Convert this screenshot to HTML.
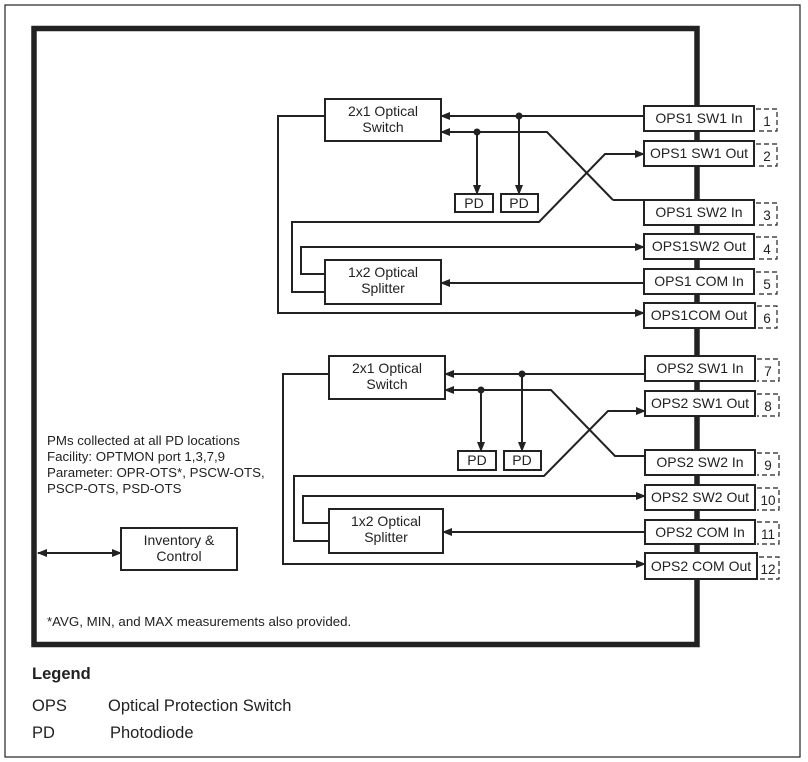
<!DOCTYPE html>
<html><head><meta charset="utf-8"><style>
body{margin:0;background:#fff}
svg{display:block}
text{font-family:"Liberation Sans",Arial,sans-serif;fill:#222}
</style></head><body>
<svg width="808" height="762" viewBox="0 0 808 762" xmlns="http://www.w3.org/2000/svg">
<defs>
<marker id="a" markerWidth="10" markerHeight="10" refX="9" refY="4" orient="auto" markerUnits="userSpaceOnUse"><path d="M0,0 L10,4 L0,8 z" fill="#222"/></marker>
<marker id="s" markerWidth="10" markerHeight="10" refX="1" refY="4" orient="auto" markerUnits="userSpaceOnUse"><path d="M10,0 L0,4 L10,8 z" fill="#222"/></marker>
</defs>
<rect x="5" y="5" width="795" height="752" fill="none" stroke="#222" stroke-width="1.2"/>
<rect x="34" y="28.5" width="663" height="616" fill="none" stroke="#222" stroke-width="5.5"/>
<g fill="none" stroke="#222" stroke-width="2">
<path d="M644 116 H441" marker-end="url(#a)"/>
<path d="M613 200 L547 132 H441" marker-end="url(#a)"/>
<path d="M519 116 V194" marker-end="url(#a)"/>
<path d="M477 132 V194" marker-end="url(#a)"/>
<path d="M325 292 H292 V222 H539 L605 154 H644" marker-end="url(#a)"/>
<path d="M644 200 H613"/>
<path d="M325 274 H301 V247 H644" marker-end="url(#a)"/>
<path d="M644 283 H441" marker-end="url(#a)"/>
<path d="M325 116 H278 V313 H644" marker-end="url(#a)"/>
<path d="M645 374 H445" marker-end="url(#a)"/>
<path d="M645 456 H615 L551 390 H445" marker-end="url(#a)"/>
<path d="M522 374 V451" marker-end="url(#a)"/>
<path d="M481 390 V451" marker-end="url(#a)"/>
<path d="M329 541 H294 V476 H544 L608 411 H645" marker-end="url(#a)"/>
<path d="M329 523 H303 V496 H645" marker-end="url(#a)"/>
<path d="M645 532 H443" marker-end="url(#a)"/>
<path d="M329 374 H283 V564 H645" marker-end="url(#a)"/>
<path d="M38 553 H121" marker-start="url(#s)" marker-end="url(#a)"/>
</g>
<g fill="#222">
<circle cx="519" cy="116" r="3.5"/><circle cx="477" cy="132" r="3.5"/>
<circle cx="522" cy="374" r="3.5"/><circle cx="481" cy="390" r="3.5"/>
</g>
<g fill="#fff" stroke="#222" stroke-width="2">
<rect x="325" y="99" width="116" height="42"/>
<rect x="325" y="260" width="116" height="44"/>
<rect x="455" y="194" width="38" height="18"/><rect x="501" y="194" width="37" height="18"/>
<rect x="329" y="356" width="116" height="43"/>
<rect x="329" y="509" width="114" height="44"/>
<rect x="458" y="451" width="38" height="19"/><rect x="504" y="451" width="37" height="19"/>
<rect x="121" y="528" width="116" height="42"/>
<rect x="644" y="106" width="110" height="25"/>
<rect x="644" y="141" width="110" height="25"/>
<rect x="644" y="200" width="110" height="25"/>
<rect x="644" y="234" width="110" height="25"/>
<rect x="644" y="269" width="110" height="25"/>
<rect x="644" y="303" width="111" height="25"/>
<rect x="645" y="356" width="110" height="25"/>
<rect x="645" y="391" width="110" height="25"/>
<rect x="645" y="450" width="110" height="25"/>
<rect x="645" y="485" width="110" height="25"/>
<rect x="645" y="520" width="110" height="24"/>
<rect x="645" y="553" width="112" height="26"/>
</g>
<g fill="none" stroke="#222" stroke-width="1.2" stroke-dasharray="5,3">
<path d="M756 109 H777 V131 H756"/><path d="M756 144 H777 V166 H756"/>
<path d="M756 203 H777 V225 H756"/><path d="M756 237 H777 V259 H756"/>
<path d="M756 272 H777 V294 H756"/><path d="M757 306 H777 V328 H757"/>
<path d="M757 359 H779 V381 H757"/><path d="M757 394 H779 V416 H757"/>
<path d="M757 453 H779 V475 H757"/><path d="M757 488 H779 V510 H757"/>
<path d="M757 522 H779 V544 H757"/><path d="M759 557 H779 V579 H759"/>
</g>
<g font-size="14" text-anchor="middle">
<text x="383" y="116">2x1 Optical</text><text x="383" y="132">Switch</text>
<text x="383" y="277">1x2 Optical</text><text x="383" y="293">Splitter</text>
<text x="387" y="373">2x1 Optical</text><text x="387" y="389">Switch</text>
<text x="386" y="526">1x2 Optical</text><text x="386" y="542">Splitter</text>
<text x="179" y="545">Inventory &amp;</text><text x="179" y="561">Control</text>
<text x="474" y="208">PD</text><text x="519" y="208">PD</text>
<text x="477" y="465">PD</text><text x="522" y="465">PD</text>
<text x="699" y="123">OPS1 SW1 In</text>
<text x="699" y="158">OPS1 SW1 Out</text>
<text x="699" y="217">OPS1 SW2 In</text>
<text x="699" y="251">OPS1SW2 Out</text>
<text x="699" y="286">OPS1 COM In</text>
<text x="699" y="320">OPS1COM Out</text>
<text x="700" y="373">OPS2 SW1 In</text>
<text x="700" y="408">OPS2 SW1 Out</text>
<text x="700" y="467">OPS2 SW2 In</text>
<text x="700" y="502">OPS2 SW2 Out</text>
<text x="700" y="537">OPS2 COM In</text>
<text x="701" y="571">OPS2 COM Out</text>
</g>
<g font-size="13.5" text-anchor="middle">
<text x="767" y="126">1</text><text x="767" y="161">2</text><text x="767" y="220">3</text>
<text x="767" y="254">4</text><text x="767" y="289">5</text><text x="767" y="323">6</text>
<text x="768" y="376">7</text><text x="768" y="411">8</text><text x="768" y="470">9</text>
<text x="768" y="505">10</text><text x="768" y="539">11</text><text x="768" y="574">12</text>
</g>
<g font-size="13.3">
<text x="47" y="445">PMs collected at all PD locations</text>
<text x="47" y="461">Facility: OPTMON port 1,3,7,9</text>
<text x="47" y="477">Parameter: OPR-OTS*, PSCW-OTS,</text>
<text x="47" y="493">PSCP-OTS, PSD-OTS</text>
<text x="47" y="626">*AVG, MIN, and MAX measurements also provided.</text>
</g>
<text x="32" y="679" font-size="16.5" font-weight="bold">Legend</text>
<g font-size="16.5">
<text x="32" y="711">OPS</text><text x="108" y="711">Optical Protection Switch</text>
<text x="32" y="738">PD</text><text x="110" y="738">Photodiode</text>
</g>
</svg>
</body></html>
